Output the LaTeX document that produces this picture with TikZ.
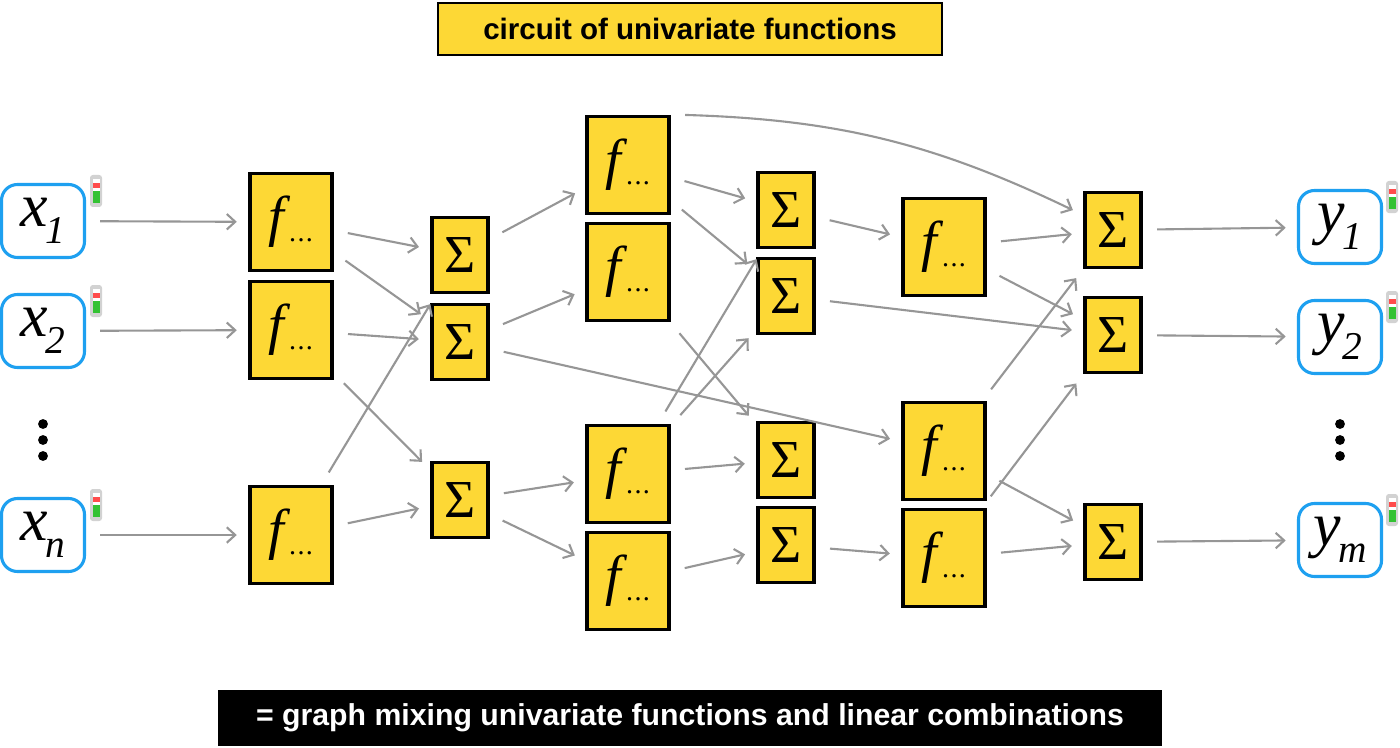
\documentclass[tikz,border=0pt]{standalone}
\usepackage{fontspec}
\setmainfont{Liberation Sans}
\newfontfamily\tms{Liberation Serif}
\usetikzlibrary{arrows.meta}
\definecolor{fy}{RGB}{253,216,53}
\definecolor{bl}{RGB}{30,160,240}
\definecolor{eg}{RGB}{150,150,150}
\newcommand{\vr}[2]{{\tms\itshape #1\kern-0.04em\raisebox{-0.28em}{\fontsize{28}{30}\selectfont #2}}}
\newcommand{\fdots}{{\tms\itshape f\kern0.08em\raisebox{-0.1em}{\fontsize{20}{22}\selectfont\upshape.\kern0.05em.\kern0.05em.}}}
\begin{document}
\begin{tikzpicture}[x=0.025cm,y=-0.025cm,
  fb/.style={draw=black,fill=fy,line width=2.8pt,inner sep=0,minimum width=2.05cm,minimum height=2.425cm,font=\fontsize{40}{42}\selectfont},
  sb/.style={draw=black,fill=fy,line width=2.8pt,inner sep=0,minimum width=1.4cm,minimum height=1.875cm,font=\fontsize{38}{40}\selectfont\tms},
  vb/.style={draw=bl,fill=white,line width=2.2pt,rounded corners=0.4cm,inner sep=0,minimum width=2.075cm,minimum height=1.825cm,font=\fontsize{44}{46}\selectfont},
  e/.style={draw=eg,line width=1.5pt,-{Straight Barb[length=6pt,width=11pt]},shorten <=10pt,shorten >=8pt},
  dot/.style={circle,fill=black,inner sep=0,minimum size=7pt}]
\useasboundingbox (0,0) rectangle (1400,748);
\newcommand{\batt}[2]{%
  \fill[gray!35,rounded corners=2pt] (#1-6,#2-16) rectangle (#1+6,#2+16);
  \fill[white] (#1-3.5,#2-12) rectangle (#1+3.5,#2+12);
  \fill[red!70] (#1-3.5,#2-8) rectangle (#1+3.5,#2-3);
  \fill[green!70!black!80] (#1-3.5,#2) rectangle (#1+3.5,#2+12);}
% inputs
\node[vb] (x1) at (43,221) {\vr{x}{1}};
\node[vb] (x2) at (43,331) {\vr{x}{2}};
\node[vb] (xn) at (43,535) {\vr{x}{\itshape n}};
\node[dot] (xa) at (43,424) {}; \node[dot] (xb) at (43,440) {}; \node[dot] (xc) at (43,456) {};
\batt{96}{191}\batt{96}{301}\batt{96}{505}
% outputs
\node[vb] (y1) at (1340,227) {\vr{y}{1}};
\node[vb] (y2) at (1340,337) {\vr{y}{2}};
\node[vb] (ym) at (1340,540) {\vr{y}{\itshape m}};
\node[dot] (ya) at (1340,424) {}; \node[dot] (yb) at (1340,440) {}; \node[dot] (yc) at (1340,456) {};
\batt{1392}{197}\batt{1392}{307}\batt{1392}{510}
% columns
\node[fb] (f1) at (291,222) {\fdots};
\node[fb] (f2) at (291,330) {\fdots};
\node[fb] (f3) at (291,535) {\fdots};
\node[sb] (s1) at (460,255) {Σ};
\node[sb] (s2) at (460,342) {Σ};
\node[sb] (s3) at (460,500) {Σ};
\node[fb] (f4) at (628,165) {\fdots};
\node[fb] (f5) at (628,272) {\fdots};
\node[fb] (f6) at (628,474) {\fdots};
\node[fb] (f7) at (628,581) {\fdots};
\node[sb] (s4) at (786,210) {Σ};
\node[sb] (s5) at (786,296) {Σ};
\node[sb] (s6) at (786,460) {Σ};
\node[sb] (s7) at (786,545) {Σ};
\node[fb] (f8) at (944,247) {\fdots};
\node[fb] (f9) at (944,451) {\fdots};
\node[fb] (f10) at (944,558) {\fdots};
\node[sb] (s8) at (1113,230) {Σ};
\node[sb] (s9) at (1113,335) {Σ};
\node[sb] (s10) at (1113,542) {Σ};
% labels
\node[draw=black,fill=fy,line width=1.5pt,minimum width=12.6cm,minimum height=1.3cm,font=\fontsize{21}{24}\selectfont\bfseries] (t) at (690,29) {circuit of univariate functions};
\node[fill=black,text=white,minimum width=23.6cm,minimum height=1.4cm,font=\fontsize{21.5}{24}\selectfont\bfseries] (b) at (690,718) {= graph mixing univariate functions and linear combinations};
% edges
\draw[e] (x1) -- (f1); \draw[e] (x2) -- (f2); \draw[e] (xn) -- (f3);
\draw[e] (f1) -- (s1); \draw[e] (f1) -- (s2); \draw[e] (f2) -- (s2); \draw[e] (f2) -- (s3);
\draw[e] (f3) -- (s1); \draw[e] (f3) -- (s3);
\draw[e] (s1) -- (f4); \draw[e] (s2) -- (f5); \draw[e] (s2) -- (f9);
\draw[e] (s3) -- (f6); \draw[e] (s3) -- (f7);
\draw[e] (f4) -- (s4); \draw[e] (f4) -- (s5); \draw[e] (f4.north east) to[bend left=12] (s8);
\draw[e] (f5) -- (s6); \draw[e] (f6) -- (s4); \draw[e] (f6) -- (s5); \draw[e] (f6) -- (s6);
\draw[e] (f7) -- (s7);
\draw[e] (s4) -- (f8); \draw[e] (s5) -- (s9); \draw[e] (s7) -- (f10);
\draw[e] (f8) -- (s8); \draw[e] (f8) -- (s9); \draw[e] (f9) -- (s8); \draw[e] (f9) -- (s10);
\draw[e] (f10) -- (s9); \draw[e] (f10) -- (s10);
\draw[e] (s8) -- (y1); \draw[e] (s9) -- (y2); \draw[e] (s10) -- (ym);
\end{tikzpicture}
\end{document}
